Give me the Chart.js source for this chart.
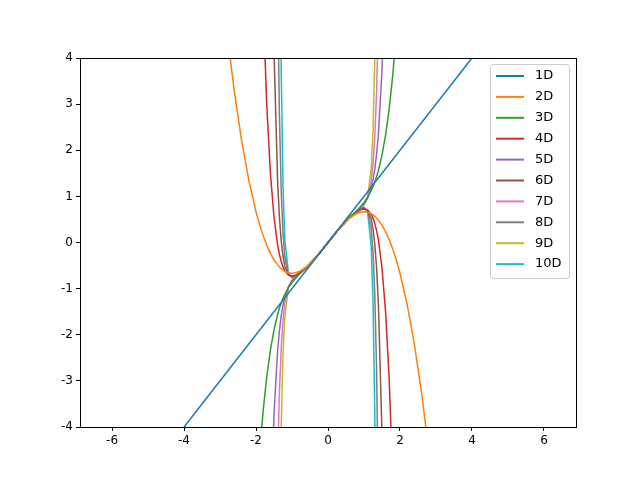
<!DOCTYPE html>
<html><head><script src="https://cdn.jsdelivr.net/npm/chart.js"></script>
<style>body{margin:0;background:#fff}</style></head>
<body><canvas id="c" width="640" height="480" style="width:640px;height:480px"></canvas>
<script>
const labels=["1D","2D","3D","4D","5D","6D","7D","8D","9D","10D"];
const colors=["#1f77b4","#ff7f0e","#2ca02c","#d62728","#9467bd","#8c564b","#e377c2","#7f7f7f","#bcbd22","#17becf"];
const xs1=[-4,4];
const y1=[-4,4];
const xs=[-2.8,-2.6,-2.4,-2.2,-2.0,-1.9,-1.8,-1.7,-1.6,-1.5,-1.4,-1.35,-1.3,-1.25,-1.2,-1.1,-1.0,-0.9,-0.8,-0.6,-0.3,0,0.3,0.6,0.8,0.9,1.0,1.1,1.2,1.25,1.3,1.35,1.4,1.5,1.6,1.7,1.8,1.9,2.0,2.2,2.4,2.6,2.8];
const y2=[4.517,3.259,2.208,1.349,0.667,0.386,0.144,-0.062,-0.235,-0.375,-0.485,-0.530,-0.568,-0.599,-0.624,-0.656,-0.667,-0.657,-0.629,-0.528,-0.291,0,0.291,0.528,0.629,0.657,0.667,0.656,0.624,0.599,0.568,0.530,0.485,0.375,0.235,0.062,-0.144,-0.386,-0.667,-1.349,-2.208,-3.259,-4.517];
const y3=[-99,-20.5,-13.72,-8.96,-5.733,-4.566,-3.635,-2.902,-2.332,-1.894,-1.561,-1.427,-1.310,-1.209,-1.122,-0.978,-0.867,-0.775,-0.695,-0.544,-0.292,0,0.292,0.544,0.695,0.775,0.867,0.978,1.122,1.209,1.310,1.427,1.561,1.894,2.332,2.902,3.635,4.566,5.733,8.96,13.72,20.5,99];
const y4=[99,99,99,26.7,12.55,8.2,5.111,2.960,1.503,0.547,-0.055,-0.259,-0.414,-0.528,-0.610,-0.700,-0.724,-0.707,-0.665,-0.540,-0.291,0,0.291,0.540,0.665,0.707,0.724,0.700,0.610,0.528,0.414,0.259,0.055,-0.547,-1.503,-2.960,-5.111,-8.2,-12.55,-26.7,-99,-99,-99];
const y5=[-99,-99,-99,-99,-44.3,-28,-16.93,-10.22,-6.133,-3.724,-2.351,-1.914,-1.592,-1.356,-1.183,-0.962,-0.835,-0.750,-0.680,-0.541,-0.291,0,0.291,0.541,0.680,0.750,0.835,0.962,1.183,1.356,1.592,1.914,2.351,3.724,6.133,10.22,16.93,28,44.3,99,99,99,99];
const y6=[99,99,99,99,99,70,40,20.9,9.86,4.139,1.331,0.554,0.037,-0.298,-0.508,-0.703,-0.744,-0.721,-0.672,-0.540,-0.291,0,0.291,0.540,0.672,0.721,0.744,0.703,0.508,0.298,-0.037,-0.554,-1.331,-4.139,-9.86,-20.9,-40,-70,-99,-99,-99,-99,-99];
const y7=[-99,-99,-99,-99,-99,-99,-99,-50,-24.8,-10.83,-4.775,-3.252,-2.293,-1.697,-1.331,-0.968,-0.821,-0.741,-0.676,-0.540,-0.291,0,0.291,0.540,0.676,0.741,0.821,0.968,1.331,1.697,2.293,3.252,4.775,10.83,24.8,50,99,99,99,99,99,99,99];
const y8=[99,99,99,99,99,99,99,99,52,18.36,5.596,2.759,1.120,0.198,-0.304,-0.690,-0.754,-0.727,-0.674,-0.540,-0.291,0,0.291,0.540,0.674,0.727,0.754,0.690,0.304,-0.198,-1.120,-2.759,-5.596,-18.36,-52,-99,-99,-99,-99,-99,-99,-99,-99];
const y9=[-99,-99,-99,-99,-99,-99,-99,-99,-99,-39.6,-12.34,-6.907,-3.969,-2.414,-1.609,-0.987,-0.813,-0.737,-0.675,-0.540,-0.291,0,0.291,0.540,0.675,0.737,0.813,0.987,1.609,2.414,3.969,6.907,12.34,39.6,99,99,99,99,99,99,99,99,99];
const y10=[99,99,99,99,99,99,99,99,99,77,19.11,8.854,3.726,1.238,0.073,-0.665,-0.761,-0.730,-0.674,-0.540,-0.291,0,0.291,0.540,0.674,0.730,0.761,0.665,-0.073,-1.238,-3.726,-8.854,-19.11,-77,-99,-99,-99,-99,-99,-99,-99,-99,-99];
const xTicks=[-6,-4,-2,0,2,4,6];
const yTicks=[-4,-3,-2,-1,0,1,2,3,4];
const ys=[y1,y2,y3,y4,y5,y6,y7,y8,y9,y10];
const datasets=ys.map((y,i)=>({label:labels[i],data:y.map((v,j)=>({x:(i===0?xs1:xs)[j],y:v})),borderColor:colors[i],backgroundColor:colors[i],borderWidth:1.5,pointRadius:0,showLine:true,tension:0,fill:false}));
const frame={id:'frame',afterDraw(ch){const c=ch.ctx,a=ch.chartArea;c.save();c.strokeStyle='#000';c.lineWidth=1;c.strokeRect(Math.round(a.left)+0.5,Math.round(a.top)+0.5,Math.round(a.right-a.left),Math.round(a.bottom-a.top));
c.fillStyle='rgba(255,255,255,0.8)';c.strokeStyle='#cccccc';c.beginPath();c.roundRect(490.5,64.5,79,214,3);c.fill();c.stroke();
c.font='13px "DejaVu Sans"';c.textBaseline='middle';
labels.forEach((l,i)=>{const y=76+i*20.9;c.strokeStyle=colors[i];c.lineWidth=2;c.beginPath();c.moveTo(496,y);c.lineTo(524,y);c.stroke();c.fillStyle='#000';c.fillText(l,535,y);});
c.restore();}};
const tick={color:'#000',font:{family:'DejaVu Sans',size:12},padding:3};
new Chart(document.getElementById('c'),{type:'scatter',data:{datasets},plugins:[frame],
options:{responsive:false,animation:false,layout:{padding:{top:58,right:64,left:0,bottom:0}},
plugins:{legend:{display:false},tooltip:{enabled:false}},
scales:{x:{type:'linear',min:-6.89,max:6.89,afterBuildTicks:s=>{s.ticks=xTicks.map(v=>({value:v}))},afterFit:s=>{s.height=53},ticks:tick,grid:{drawOnChartArea:false,color:'#000',tickLength:4},border:{display:false}},
y:{type:'linear',min:-4,max:4,afterBuildTicks:s=>{s.ticks=yTicks.map(v=>({value:v}))},afterFit:s=>{s.width=80},ticks:tick,grid:{drawOnChartArea:false,color:'#000',tickLength:4},border:{display:false}}}}});
</script></body></html>
